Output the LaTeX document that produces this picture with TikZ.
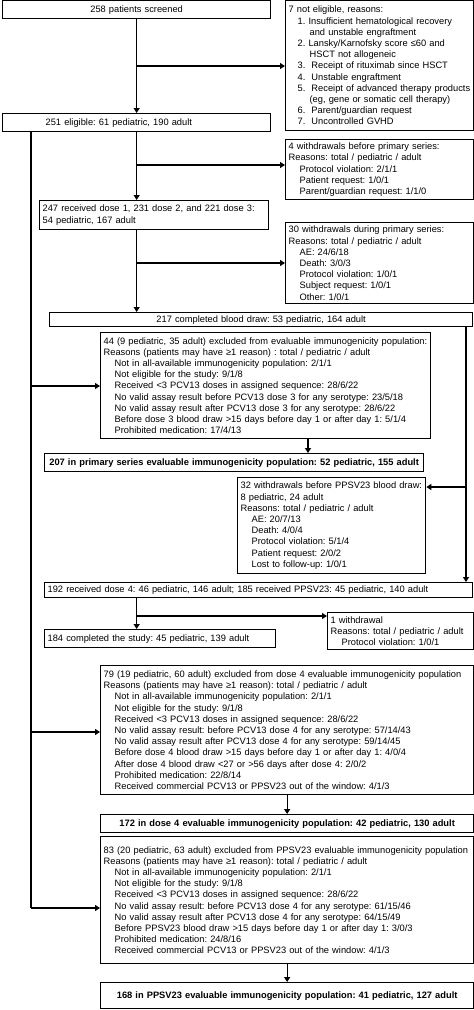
\documentclass[tikz,border=0pt]{standalone}
\usepackage{fontspec}
\setmainfont{Liberation Sans}
\usetikzlibrary{arrows.meta}
\frenchspacing
\newcommand{\indA}{\hspace*{11pt}}
\newcommand{\numA}{\hspace*{9pt}}
\newcommand{\conA}{\hspace*{21pt}}

\begin{document}
\begin{tikzpicture}[x=1pt,y=-1pt,
    box/.style={draw,line width=1.3pt,anchor=north west,inner xsep=3pt,inner ysep=1.5pt,
      align=left,font=\fontsize{9.3}{11.2}\selectfont},
    centerbox/.style={box,align=center},
    boldbox/.style={centerbox,font=\fontsize{9.3}{11.2}\selectfont\bfseries},
    wire/.style={line width=1.3pt},
    arr/.style={line width=1.3pt,-{Triangle[length=5pt,width=6pt]}}]
  \useasboundingbox (0,0) rectangle (474,1010);

  \node[centerbox,text width=262pt,minimum height=18pt] (scr) at (2,0) {258 patients screened};
  \node[box,text width=182pt,minimum height=130pt] (ne) at (285,0) {7 not eligible, reasons:\\
    \numA 1. Insufficient hematological recovery\\ \conA and unstable engraftment\\
    \numA 2. Lansky/Karnofsky score ≤60 and\\ \conA HSCT not allogeneic\\
    \numA 3.\hspace{3pt} Receipt of rituximab since HSCT\\
    \numA 4.\hspace{3pt} Unstable engraftment\\
    \numA 5.\hspace{3pt} Receipt of advanced therapy products\\ \conA (eg, gene or somatic cell therapy)\\
    \numA 6.\hspace{3pt} Parent/guardian request\\
    \numA 7.\hspace{3pt} Uncontrolled GVHD};
  \node[box,text width=262pt,minimum height=18pt] (elig) at (2,113) {\hspace*{40pt}251 eligible: 61 pediatric, 190 adult};
  \node[box,text width=182pt,minimum height=60pt] (wd1) at (285,139) {4 withdrawals before primary series:\\
    Reasons: total / pediatric / adult\\
    \indA Protocol violation: 2/1/1\\
    \indA Patient request: 1/0/1\\
    \indA Parent/guardian request: 1/1/0};
  \node[box,text width=223pt,minimum height=29pt] (dose) at (39,200) {247 received dose 1, 231 dose 2, and 221 dose 3:\\
    54 pediatric, 167 adult};
  \node[box,text width=182pt,minimum height=81pt] (wd2) at (285,222) {30 withdrawals during primary series:\\
    Reasons: total / pediatric / adult\\
    \indA AE: 24/6/18\\
    \indA Death: 3/0/3\\
    \indA Protocol violation: 1/0/1\\
    \indA Subject request: 1/0/1\\
    \indA Other: 1/0/1};
  \node[centerbox,text width=417pt,minimum height=14pt] (blood) at (49,312) {217 completed blood draw: 53 pediatric, 164 adult};
  \node[box,text width=324pt,minimum height=106pt] (exc1) at (100,332) {44 (9 pediatric, 35 adult) excluded from evaluable immunogenicity population:\\
    Reasons (patients may have ≥1 reason) : total / pediatric / adult\\
    \indA Not in all-available immunogenicity population: 2/1/1\\
    \indA Not eligible for the study: 9/1/8\\
    \indA Received <3 PCV13 doses in assigned sequence: 28/6/22\\
    \indA No valid assay result before PCV13 dose 3 for any serotype: 23/5/18\\
    \indA No valid assay result after PCV13 dose 3 for any serotype: 28/6/22\\
    \indA Before dose 3 blood draw >15 days before day 1 or after day 1: 5/1/4\\
    \indA Prohibited medication: 17/4/13};
  \node[boldbox,text width=373pt,minimum height=18pt] (pp1) at (44,453) {207 in primary series evaluable immunogenicity population: 52 pediatric, 155 adult};
  \node[box,text width=182pt,minimum height=96pt] (wd3) at (237,477) {32 withdrawals before PPSV23 blood draw:\\
    8 pediatric, 24 adult\\
    Reasons: total / pediatric / adult\\
    \indA AE: 20/7/13\\
    \indA Death: 4/0/4\\
    \indA Protocol violation: 5/1/4\\
    \indA Patient request: 2/0/2\\
    \indA Lost to follow-up: 1/0/1};
  \node[box,text width=422pt,minimum height=15pt] (d4) at (44,582) {192 received dose 4: 46 pediatric, 146 adult; 185 received PPSV23: 45 pediatric, 140 adult};
  \node[box,text width=140pt,minimum height=37pt] (wd4) at (327,612) {1 withdrawal\\
    Reasons: total / pediatric / adult\\
    \indA Protocol violation: 1/0/1};
  \node[box,text width=225pt,minimum height=18pt] (done) at (44,629) {184 completed the study: 45 pediatric, 139 adult};
  \node[box,text width=367pt,minimum height=129pt] (exc2) at (100,665) {79 (19 pediatric, 60 adult) excluded from dose 4 evaluable immunogenicity population\\
    Reasons (patients may have ≥1 reason): total / pediatric / adult\\
    \indA Not in all-available immunogenicity population: 2/1/1\\
    \indA Not eligible for the study: 9/1/8\\
    \indA Received <3 PCV13 doses in assigned sequence: 28/6/22\\
    \indA No valid assay result: before PCV13 dose 4 for any serotype: 57/14/43\\
    \indA No valid assay result after PCV13 dose 4 for any serotype: 59/14/45\\
    \indA Before dose 4 blood draw >15 days before day 1 or after day 1: 4/0/4\\
    \indA After dose 4 blood draw <27 or >56 days after dose 4: 2/0/2\\
    \indA Prohibited medication: 22/8/14\\
    \indA Received commercial PCV13 or PPSV23 out of the window: 4/1/3};
  \node[boldbox,text width=367pt,minimum height=18pt] (pp2) at (100,814) {172 in dose 4 evaluable immunogenicity population: 42 pediatric, 130 adult};
  \node[box,text width=367pt,minimum height=127pt] (exc3) at (100,836) {83 (20 pediatric, 63 adult) excluded from PPSV23 evaluable immunogenicity population\\
    Reasons (patients may have ≥1 reason): total / pediatric / adult\\
    \indA Not in all-available immunogenicity population: 2/1/1\\
    \indA Not eligible for the study: 9/1/8\\
    \indA Received <3 PCV13 doses in assigned sequence: 28/6/22\\
    \indA No valid assay result: before PCV13 dose 4 for any serotype: 61/15/46\\
    \indA No valid assay result after PCV13 dose 4 for any serotype: 64/15/49\\
    \indA Before PPSV23 blood draw >15 days before day 1 or after day 1: 3/0/3\\
    \indA Prohibited medication: 24/8/16\\
    \indA Received commercial PCV13 or PPSV23 out of the window: 4/1/3};
  \node[boldbox,text width=367pt,minimum height=26pt] (pp3) at (100,982) {168 in PPSV23 evaluable immunogenicity population: 41 pediatric, 127 adult};

  \coordinate (b1) at (136,66);
  \coordinate (b2) at (136,165);
  \coordinate (b3) at (136,263);
  \coordinate (b4) at (136,616);
  \draw[arr] (scr.south) -- (elig.north);
  \draw[arr] (b1) -- (b1 -| ne.west);
  \draw[arr] (elig.south) -- (elig.south |- dose.north);
  \draw[arr] (b2) -- (b2 -| wd1.west);
  \draw[arr] (elig.south |- dose.south) -- (elig.south |- blood.north);
  \draw[arr] (b3) -- (b3 -| wd2.west);
  \coordinate (ltop) at (31,131);
  \coordinate (l1) at (31,386);
  \coordinate (l2) at (31,732);
  \coordinate (lbot) at (31,908);
  \draw[wire] (ltop) -- (lbot);
  \draw[arr] (l1) -- (l1 -| exc1.west);
  \draw[arr] (l2) -- (l2 -| exc2.west);
  \draw[arr] (lbot) -- (lbot -| exc3.west);
  \coordinate (c1) at (308,0);
  \draw[arr] (c1 |- exc1.south) -- (c1 |- pp1.north);
  \coordinate (rtop) at (466,326);
  \coordinate (r1) at (466,487);
  \draw[arr] (rtop) -- (rtop |- d4.north);
  \draw[arr] (r1) -- (r1 -| wd3.east);
  \draw[arr] (elig.south |- d4.south) -- (elig.south |- done.north);
  \draw[arr] (b4) -- (b4 -| wd4.west);
  \draw[arr] (exc2.south) -- (pp2.north);
  \draw[arr] (exc3.south) -- (pp3.north);
\end{tikzpicture}
\end{document}
